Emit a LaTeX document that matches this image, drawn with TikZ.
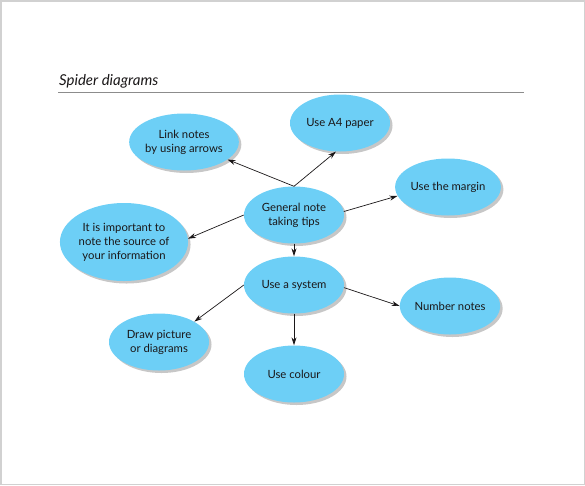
\documentclass[tikz,border=0pt]{standalone}
\usepackage{fontspec}
\setmainfont{Lato}
\usetikzlibrary{positioning,shapes.geometric,shadows,arrows.meta}

\definecolor{bubble}{HTML}{6DCFF6}
\definecolor{ink}{HTML}{1A1718}

\tikzset{
	tip/.style={ellipse, fill=bubble, inner sep=0pt, minimum width=100pt, minimum height=57pt,
		align=center, text=ink, font=\fontsize{11.3}{14}\selectfont,
		drop shadow={shadow xshift=2.5pt, shadow yshift=-2.5pt, fill=black!22, opacity=1}},
	bigtip/.style={tip, minimum width=126pt, minimum height=78pt},
	link/.style={-{Stealth[length=8pt,width=5pt]}, ink, line width=0.7pt},
}

\begin{document}
\begin{tikzpicture}[x=1pt, y=1pt, on grid]
	\useasboundingbox (0,0) rectangle (585,-485);
	\draw[black!18, line width=1.5pt] (0.75,-0.75) rectangle (584.25,-484.25);
	\node[anchor=base west, inner sep=0pt, text=ink, font=\fontsize{15}{17}\selectfont\itshape] (title) at (59,-85) {Spider diagrams};
	\coordinate (rulea) at (58,-92);
	\coordinate (ruleb) at (524,-92);
	\draw[black!45, line width=0.8pt] (rulea) -- (ruleb);

	\node[tip] (gen) at (294,-215) {General note\\taking tips};
	\node[tip, above left=73pt and 110pt of gen] (arrows) {Link notes\\by using arrows};
	\node[tip, above right=92pt and 46pt of gen] (paper) {Use A4 paper};
	\node[tip, above right=28pt and 154pt of gen] (margin) {Use the margin};
	\node[bigtip, below left=27pt and 170pt of gen] (source) {It is important to\\note the source of\\your information};
	\node[tip, below=70pt of gen] (sys) {Use a system};
	\node[tip, below left=57pt and 135pt of sys] (pics) {Draw picture\\or diagrams};
	\node[tip, below right=21pt and 156pt of sys] (number) {Number notes};
	\node[tip, below=89pt of sys] (colour) {Use colour};

	\draw[link] (gen.north) -- (arrows);
	\draw[link] (gen.north) -- (paper.262);
	\draw[link] (gen.4) -- (margin.190);
	\draw[link] (gen.west) -- (source.3);
	\draw[link] (gen.south) -- (sys.north);
	\draw[link] (sys.west) -- (pics.30);
	\draw[link] (sys.-3) -- (number.west);
	\draw[link] (sys.south) -- (colour.north);
\end{tikzpicture}
\end{document}
